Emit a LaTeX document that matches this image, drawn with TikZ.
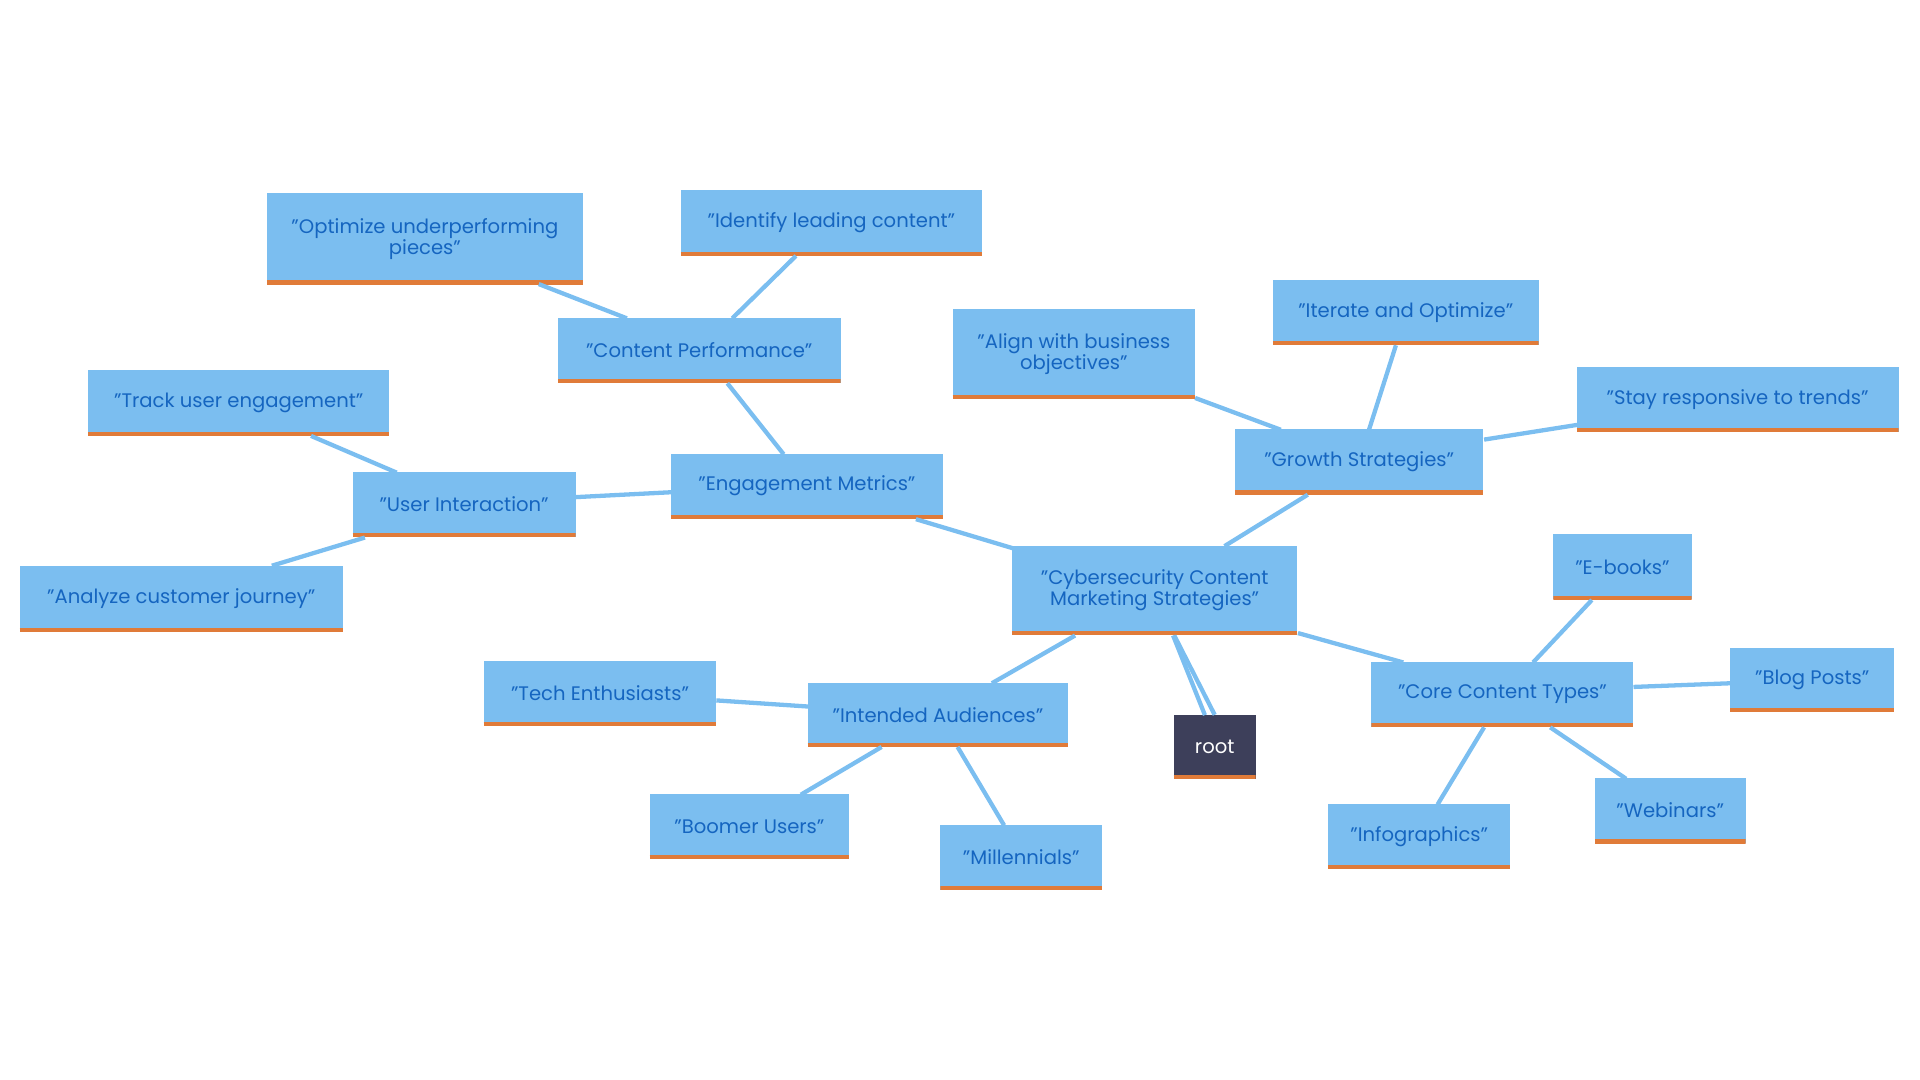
\documentclass[tikz,border=0pt]{standalone}
\usepackage{fontspec}
\setmainfont{Poppins}
\definecolor{boxfill}{HTML}{7BBEF0}
\definecolor{boxtext}{HTML}{1565C0}
\definecolor{orangeline}{HTML}{E07B39}
\definecolor{rootfill}{HTML}{3D3F5A}
\definecolor{edgecol}{HTML}{7BBEF0}
\begin{document}
\begin{tikzpicture}[x=1pt,y=-1pt,
  mm/.style={fill=boxfill,text=boxtext,font=\fontsize{16}{17}\selectfont,align=center,inner sep=0pt,
    path picture={\draw[orangeline,line width=6pt] (path picture bounding box.south west)--(path picture bounding box.south east);}},
  rootbox/.style={mm,fill=rootfill,text=white},
  edge/.style={draw=edgecol,line width=3.5pt}]
\useasboundingbox (0,0) rectangle (1568,882);
\def\B#1#2#3#4#5#6{\node[mm,minimum width=#4pt,minimum height=#5pt] (#1) at (#2,#3) {#6};}
\B{cyber}{943}{482}{233}{73}{"Cybersecurity Content\\Marketing Strategies"}
\node[rootbox,minimum width=67pt,minimum height=52pt] (root) at (992,610) {root};
\B{em}{659}{397}{222}{53}{"Engagement Metrics"}
\B{cp}{571}{286}{231}{53}{"Content Performance"}
\B{opt}{347}{195}{258}{74}{"Optimize underperforming\\pieces"}
\B{idl}{679}{182}{246}{53}{"Identify leading content"}
\B{ui}{379}{412}{182}{53}{"User Interaction"}
\B{tr}{195}{329}{246}{53}{"Track user engagement"}
\B{an}{148}{489}{264}{54}{"Analyze customer journey"}
\B{gs}{1110}{377}{203}{53}{"Growth Strategies"}
\B{al}{877}{289}{198}{73}{"Align with business\\objectives"}
\B{it}{1148}{255}{217}{53}{"Iterate and Optimize"}
\B{st}{1419}{326}{263}{53}{"Stay responsive to trends"}
\B{cc}{1227}{567}{214}{53}{"Core Content Types"}
\B{eb}{1325}{463}{113}{53}{"E-books"}
\B{bp}{1480}{555}{134}{52}{"Blog Posts"}
\B{wb}{1364}{662}{123}{53}{"Webinars"}
\B{inf}{1159}{683}{149}{53}{"Infographics"}
\B{ia}{766}{584}{213}{52}{"Intended Audiences"}
\B{te}{490}{566}{190}{53}{"Tech Enthusiasts"}
\B{bo}{612}{675}{163}{53}{"Boomer Users"}
\B{mi}{834}{700}{132}{53}{"Millennials"}
\begin{scope}[on background layer/.style={}]
\end{scope}
\pgfsetlayers{main}
\draw[edge] (cyber.center) ++(16,37) -- (root.north) ++(-8,0);
\foreach \a/\b/\ax/\ay/\bx/\by in {
 cyber/em/828/448/748/424, em/cp/640/371/594/313, cp/opt/512/260/440/232, cp/idl/598/260/650/209,
 em/ui/548/402/470/406, ui/tr/324/386/254/356, ui/an/298/439/222/462,
 cyber/gs/1000/446/1068/404, gs/al/1046/351/976/325, gs/it/1118/351/1140/282, gs/st/1212/359/1288/347,
 cyber/cc/1060/517/1146/541, cc/eb/1252/541/1300/490, cc/bp/1334/561/1413/558, cc/wb/1266/594/1328/636, cc/inf/1212/594/1174/657,
 cyber/ia/878/519/810/558, ia/te/660/577/585/572, ia/bo/720/610/654/649, ia/mi/782/610/820/674, cyber/root/958/519/984/584}
 { \draw[edge] (\ax,\ay) -- (\bx,\by); }
\end{tikzpicture}
\end{document}
